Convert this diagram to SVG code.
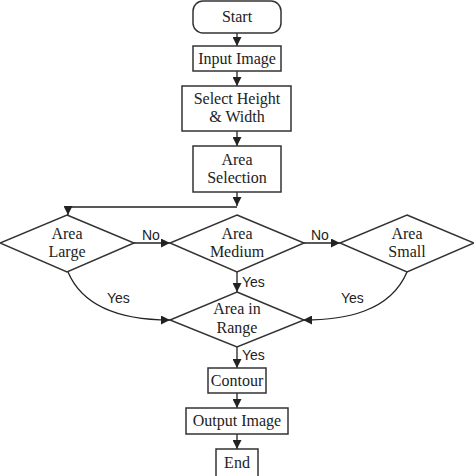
<svg xmlns="http://www.w3.org/2000/svg" width="474" height="476" viewBox="0 0 474 476">
<defs>
<marker id="ah" viewBox="0 0 10 10" refX="10" refY="5" markerWidth="9" markerHeight="9" markerUnits="userSpaceOnUse" orient="auto">
<path d="M0,0 L10,5 L0,10 Z" fill="#222"/>
</marker>
<style>
.b{fill:#fff;stroke:#333;stroke-width:1.5}
.t{font-family:"Liberation Serif","Times New Roman",serif;font-size:16px;fill:#222;text-anchor:middle}
.l{font-family:"Liberation Sans",Arial,sans-serif;font-size:14px;fill:#222}
.c{fill:none;stroke:#222;stroke-width:1.3;marker-end:url(#ah)}
</style>
</defs>
<rect width="474" height="476" fill="#fff"/>
<g id="connectors">
<line class="c" x1="237" y1="33" x2="237" y2="46"/>
<line class="c" x1="237" y1="71" x2="237" y2="86"/>
<line class="c" x1="237" y1="131" x2="237" y2="146"/>
<line class="c" x1="237" y1="192" x2="237" y2="206"/>
<polyline class="c" points="237,207 68,207 68,215"/>
<line class="c" x1="133" y1="243" x2="170" y2="243"/>
<line class="c" x1="303" y1="243" x2="340" y2="243"/>
<line class="c" x1="237" y1="272" x2="237" y2="292"/>
<path class="c" d="M68,272 C85,312 130,320 170,320"/>
<path class="c" d="M407,272 C390,312 345,320 303,320"/>
<line class="c" x1="237" y1="347" x2="237" y2="368"/>
<line class="c" x1="237" y1="393" x2="237" y2="408"/>
<line class="c" x1="237" y1="434" x2="237" y2="449"/>
<text class="l" x="142" y="240">No</text>
<text class="l" x="311" y="240">No</text>
<text class="l" x="242" y="287">Yes</text>
<text class="l" x="107" y="303">Yes</text>
<text class="l" x="341" y="303">Yes</text>
<text class="l" x="242" y="360">Yes</text>
</g>
<g id="start"><rect class="b" x="193" y="1" width="88" height="32" rx="10"/><text class="t" x="237" y="22">Start</text></g>
<g id="input"><rect class="b" x="193" y="46" width="88" height="25"/><text class="t" x="237" y="64">Input Image</text></g>
<g id="select"><rect class="b" x="182" y="86" width="109" height="45"/><text class="t" x="237" y="104">Select Height</text><text class="t" x="237" y="122">&amp; Width</text></g>
<g id="areasel"><rect class="b" x="193" y="146" width="88" height="46"/><text class="t" x="237" y="165">Area</text><text class="t" x="237" y="183">Selection</text></g>
<g id="large"><polygon class="b" points="67,215 134,243 67,272 0,243"/><text class="t" x="67" y="239">Area</text><text class="t" x="67" y="257">Large</text></g>
<g id="medium"><polygon class="b" points="237,215 304,243 237,272 170,243"/><text class="t" x="237" y="239">Area</text><text class="t" x="237" y="257">Medium</text></g>
<g id="small"><polygon class="b" points="407,215 474,243 407,272 340,243"/><text class="t" x="407" y="239">Area</text><text class="t" x="407" y="257">Small</text></g>
<g id="range"><polygon class="b" points="237,292 304,320 237,347 170,320"/><text class="t" x="237" y="314">Area in</text><text class="t" x="237" y="333">Range</text></g>
<g id="contour"><rect class="b" x="208" y="368" width="58" height="25"/><text class="t" x="237" y="386">Contour</text></g>
<g id="output"><rect class="b" x="186" y="408" width="102" height="26"/><text class="t" x="237" y="426">Output Image</text></g>
<g id="end"><rect class="b" x="216" y="449" width="42" height="30"/><text class="t" x="237" y="468">End</text></g>
</svg>
